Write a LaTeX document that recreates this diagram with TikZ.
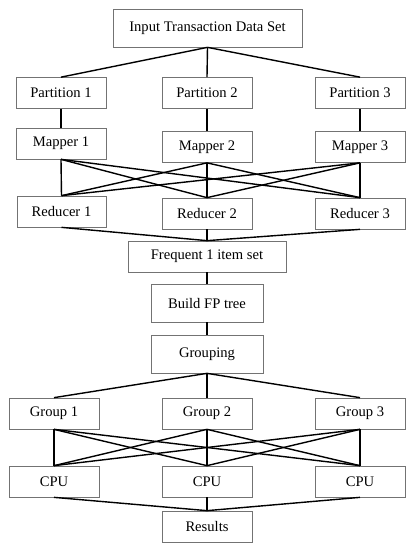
\documentclass[tikz,border=0pt]{standalone}
\usepackage{fontspec}
\setmainfont{Liberation Serif}
\begin{document}
\begin{tikzpicture}[x=1pt,y=-1pt,
  box/.style={draw=black!55,line width=0.7pt,fill=white,inner sep=0pt,minimum width=90pt,minimum height=31pt,font=\fontsize{14.6}{16}\selectfont},
  link/.style={draw=black,line width=1.4pt}]
\useasboundingbox (0,0) rectangle (414,550);
\node[box,minimum width=189pt,minimum height=38pt] (in) at (207.5,28) {Input Transaction Data Set};
\node[box] (p1) at (61,93) {Partition 1};
\node[box] (p2) at (207,93) {Partition 2};
\node[box] (p3) at (360,93) {Partition 3};
\node[box] (m1) at (61,143.5) {Mapper 1};
\node[box] (m2) at (207,147) {Mapper 2};
\node[box] (m3) at (360,147) {Mapper 3};
\node[box,minimum width=89pt] (r1) at (61.5,211.5) {Reducer 1};
\node[box] (r2) at (207,213.5) {Reducer 2};
\node[box] (r3) at (360,213.5) {Reducer 3};
\node[box,minimum width=158pt] (f) at (207,256.5) {Frequent 1 item set};
\node[box,minimum width=112pt,minimum height=38pt] (b) at (207,303) {Build FP tree};
\node[box,minimum width=112pt,minimum height=38pt] (g) at (207,354) {Grouping};
\node[box] (g1) at (54,413.5) {Group 1};
\node[box] (g2) at (207,413.5) {Group 2};
\node[box] (g3) at (360,413.5) {Group 3};
\node[box] (c1) at (54,481.5) {CPU};
\node[box] (c2) at (207,481.5) {CPU};
\node[box] (c3) at (360,481.5) {CPU};
\node[box] (res) at (207,526.5) {Results};
\foreach \i in {1,2,3} {
  \draw[link] (in.south) -- (p\i.north);
  \draw[link] (p\i.south) -- (m\i.north);
  \draw[link] (r\i.south) -- (f.north);
  \draw[link] (g.south) -- (g\i.north);
  \draw[link] (c\i.south) -- (res.north);
  \foreach \j in {1,2,3} {
    \draw[link] (m\i.south) -- (r\j.north);
    \draw[link] (g\i.south) -- (c\j.north);
  }
}
\draw[link] (f.south) -- (b.north);
\draw[link] (b.south) -- (g.north);
\end{tikzpicture}
\end{document}
